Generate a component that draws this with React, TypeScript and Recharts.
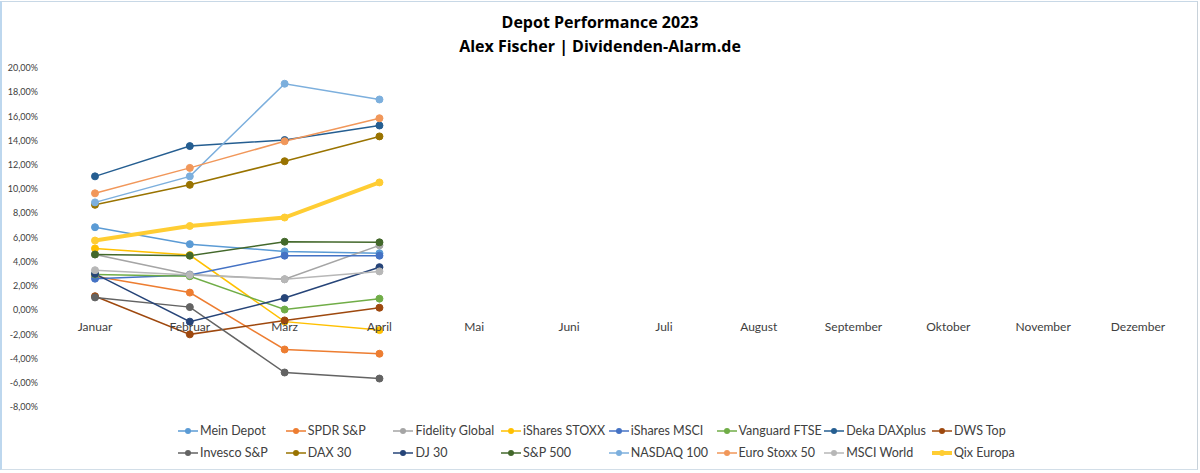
import { Legend, Line, LineChart, XAxis, YAxis } from "recharts"

const MONTHS = [
  "Januar", "Februar", "März", "April", "Mai", "Juni",
  "Juli", "August", "September", "Oktober", "November", "Dezember",
]

// performance in percent, Jan..Apr (rest of the year still open)
const MEIN_DEPOT    = [6.85, 5.45, 4.85, 4.7]
const SPDR_SP       = [2.8, 1.45, -3.25, -3.6]
const FIDELITY      = [4.6, 2.95, 2.55, 5.35]
const ISHARES_STOXX = [5.1, 4.55, -0.95, -1.65]
const ISHARES_MSCI  = [2.6, 2.9, 4.5, 4.5]
const VANGUARD      = [2.95, 2.8, 0.05, 0.95]
const DEKA_DAXPLUS  = [11.05, 13.55, 14.05, 15.25]
const DWS_TOP       = [1.15, -2.0, -0.85, 0.2]
const INVESCO_SP    = [1.05, 0.25, -5.15, -5.65]
const DAX_30        = [8.7, 10.35, 12.3, 14.35]
const DJ_30         = [3.0, -0.95, 1.0, 3.55]
const SP_500        = [4.6, 4.5, 5.65, 5.6]
const NASDAQ_100    = [8.9, 11.05, 18.7, 17.4]
const EURO_STOXX_50 = [9.65, 11.75, 13.95, 15.85]
const MSCI_WORLD    = [3.3, 2.9, 2.55, 3.2]
const QIX_EUROPA    = [5.75, 6.95, 7.65, 10.55]

const Y_TICKS = [-8, -6, -4, -2, 0, 2, 4, 6, 8, 10, 12, 14, 16, 18, 20]

const SERIES = [
  { key: "mein",     name: "Mein Depot",      color: "#5B9BD5", values: MEIN_DEPOT },
  { key: "spdr",     name: "SPDR S&P",        color: "#ED7D31", values: SPDR_SP },
  { key: "fidelity", name: "Fidelity Global", color: "#A5A5A5", values: FIDELITY },
  { key: "istoxx",   name: "iShares STOXX",   color: "#FFC000", values: ISHARES_STOXX },
  { key: "imsci",    name: "iShares MSCI",    color: "#4472C4", values: ISHARES_MSCI },
  { key: "vanguard", name: "Vanguard FTSE",   color: "#70AD47", values: VANGUARD },
  { key: "deka",     name: "Deka DAXplus",    color: "#255E91", values: DEKA_DAXPLUS },
  { key: "dws",      name: "DWS Top",         color: "#9E480E", values: DWS_TOP },
  { key: "invesco",  name: "Invesco S&P",     color: "#636363", values: INVESCO_SP },
  { key: "dax",      name: "DAX 30",          color: "#997300", values: DAX_30 },
  { key: "dj",       name: "DJ 30",           color: "#264478", values: DJ_30 },
  { key: "sp500",    name: "S&P 500",         color: "#43682B", values: SP_500 },
  { key: "nasdaq",   name: "NASDAQ 100",      color: "#7CAFDD", values: NASDAQ_100 },
  { key: "euro",     name: "Euro Stoxx 50",   color: "#F1975A", values: EURO_STOXX_50 },
  { key: "msci",     name: "MSCI World",      color: "#B7B7B7", values: MSCI_WORLD },
  { key: "qix",      name: "Qix Europa",      color: "#FFCD33", values: QIX_EUROPA, width: 4 },
]

const data = MONTHS.map((m, i) => {
  const row: Record<string, string | number | null> = { month: m }
  SERIES.forEach(s => { row[s.key] = i < s.values.length ? s.values[i] : null })
  return row
})

const W = 1200
const H = 473
const TOP = 68
const BOTTOM = 407
const Y_MIN = -8
const Y_MAX = 20
const zeroY = TOP + (BOTTOM - TOP) * (Y_MAX / (Y_MAX - Y_MIN))

const pct = (v: number) => `${v.toFixed(2).replace(".", ",")}%`

// Excel puts the category labels on the 0 % line, not under the plot
function MonthTick(props: any) {
  const { x, payload } = props
  return (
    <text x={x} y={zeroY + 21} textAnchor="middle" fontSize={12} fill="#404040" fontFamily="Lato">
      {payload.value}
    </text>
  )
}

// 8-column grid legend in series order
function GridLegend() {
  return (
    <div style={{ position: "relative", width: W, height: 38, fontFamily: "Lato", fontSize: 12.5, color: "#404040" }}>
      {SERIES.map((s, i) => {
        const col = i % 8
        const row = Math.floor(i / 8)
        return (
          <div
            key={s.key}
            style={{
              position: "absolute",
              left: 170 + col * 107.7,
              top: -4.5 + row * 22.4,
              height: 16,
              display: "flex",
              alignItems: "center",
              whiteSpace: "nowrap",
            }}
          >
            <svg width={22} height={16} style={{ display: "block" }}>
              <line x1={0} y1={8} x2={20} y2={8} stroke={s.color} strokeWidth={s.width ?? 1.5} />
              <circle cx={10} cy={8} r={3} fill={s.color} />
            </svg>
            <span>{s.name}</span>
          </div>
        )
      })}
    </div>
  )
}

export default function App() {
  return (
    <div style={{ position: "fixed", left: 0, top: 0, width: W, height: H, background: "#fff" }}>
      <div
        style={{
          position: "absolute", left: 0, top: 1, width: 1195, height: 467,
          borderLeft: "2px solid #BDD7EE", borderTop: "1.5px solid #C8D8E6",
          borderRight: "1.5px solid #C8D2DA", borderBottom: "1.5px solid #D2DEE8",
        }}
      />
      <div
        style={{
          position: "absolute", left: 0, top: 10, width: W, textAlign: "center",
          fontFamily: "Open Sans", fontWeight: 700, fontSize: 16, lineHeight: "24px", color: "#000",
        }}
      >
        <div>Depot Performance 2023</div>
        <div>Alex Fischer | Dividenden-Alarm.de</div>
      </div>
      <LineChart width={W} height={H} data={data} margin={{ top: TOP, right: 15, bottom: 8, left: 8 }}>
        <XAxis
          dataKey="month"
          height={20}
          axisLine={false}
          tickLine={false}
          interval={0}
          padding={{ left: 47, right: 47 }}
          tick={(p: any) => <MonthTick {...p} />}
        />
        <YAxis
          width={40}
          domain={[Y_MIN, Y_MAX]}
          ticks={Y_TICKS}
          interval={0}
          axisLine={false}
          tickLine={false}
          tickMargin={4}
          tickFormatter={pct}
          tick={{ fontSize: 9, fill: "#404040", fontFamily: "Lato" }}
        />
        <Legend verticalAlign="bottom" height={38} content={() => <GridLegend />} />
        {SERIES.map(s => (
          <Line
            key={s.key}
            type="linear"
            dataKey={s.key}
            name={s.name}
            stroke={s.color}
            strokeWidth={s.width ?? 1.5}
            dot={{ r: 3.5, fill: s.color, stroke: s.color, strokeWidth: 1 }}
            activeDot={false}
            connectNulls={false}
            isAnimationActive={false}
          />
        ))}
      </LineChart>
    </div>
  )
}
